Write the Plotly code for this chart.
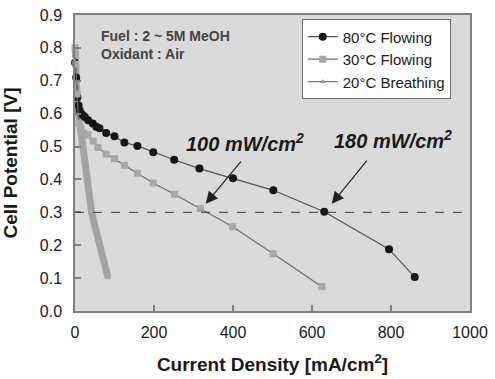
import plotly.graph_objects as go

# ---- data ----
x80 = [0, 3, 6, 9, 12, 16, 20, 25, 33, 45, 54, 62, 79, 100, 125, 158, 198, 251, 315, 400, 502, 631, 795, 860]
y80 = [0.755, 0.71, 0.65, 0.625, 0.61, 0.60, 0.595, 0.59, 0.58, 0.57, 0.56, 0.556, 0.541, 0.531, 0.512, 0.502,
       0.483, 0.46, 0.433, 0.404, 0.367, 0.302, 0.188, 0.103]

x30 = [0, 1, 2, 5, 10, 15, 22, 33, 46, 58, 79, 100, 125, 158, 198, 252, 317, 399, 502, 625]
y30 = [0.80, 0.78, 0.75, 0.66, 0.57, 0.55, 0.54, 0.535, 0.517, 0.497, 0.477, 0.463, 0.443, 0.419, 0.389,
       0.355, 0.312, 0.256, 0.174, 0.074]

x20 = [0, 1, 2, 4, 6, 9, 14, 20, 25, 31, 36, 42, 52, 62, 73, 84]
y20 = [0.80, 0.70, 0.66, 0.64, 0.62, 0.60, 0.55, 0.50, 0.45, 0.40, 0.35, 0.30, 0.25, 0.20, 0.15, 0.10]

names = ["80°C Flowing", "30°C Flowing", "20°C Breathing"]
x_ticks = [0, 200, 400, 600, 800, 1000]
y_ticks = [0.0, 0.1, 0.2, 0.3, 0.4, 0.5, 0.6, 0.7, 0.8, 0.9]
ref_v = 0.3
power_labels = ["100 mW/cm<sup>2</sup>", "180 mW/cm<sup>2</sup>"]
label_pos = [(431, 0.512), (805, 0.52)]
arrow_tip = [(331, 0.326), (650, 0.326)]
arrow_tail = [(423, 0.459), (742, 0.462)]

FONT = "Liberation Sans, Arial"

fig = go.Figure()

# 20C breathing (thick band of dense points)
fig.add_trace(go.Scatter(x=x20, y=y20, mode="lines+markers", showlegend=False,
                         line=dict(color="#a3a3a3", width=7),
                         marker=dict(symbol="triangle-up", size=5, color="#a3a3a3"),
                         cliponaxis=False))
fig.add_trace(go.Scatter(x=x80, y=y80, mode="lines+markers", name=names[0], legendrank=1,
                         line=dict(color="#555555", width=1.2),
                         marker=dict(symbol="circle", size=8, color="#151515"),
                         cliponaxis=False))
fig.add_trace(go.Scatter(x=x30, y=y30, mode="lines+markers", name=names[1], legendrank=2,
                         line=dict(color="#6e6e6e", width=1.2),
                         marker=dict(symbol="square", size=7, color="#a8a8a8"),
                         cliponaxis=False))
# legend proxy for 20C
fig.add_trace(go.Scatter(x=[None], y=[None], mode="lines+markers", name=names[2], legendrank=3,
                         line=dict(color="#777777", width=1.2),
                         marker=dict(symbol="triangle-up", size=5, color="#999999")))

fig.add_shape(type="line", x0=0, x1=1000, y0=ref_v, y1=ref_v, xref="x", yref="y",
              line=dict(color="#3a3a3a", width=1, dash="dash"), layer="above")

for txt, (lx, ly) in zip(power_labels, label_pos):
    fig.add_annotation(x=lx, y=ly, text="<b><i>" + txt + "</i></b>", showarrow=False,
                       font=dict(family=FONT, size=20, color="#1a1a1a"))
for (tx, ty), (ax, ay) in zip(arrow_tip, arrow_tail):
    fig.add_annotation(x=tx, y=ty, ax=ax, ay=ay, axref="x", ayref="y", text="",
                       showarrow=True, arrowhead=2, arrowsize=2, arrowwidth=1.2,
                       arrowcolor="#222222")

fig.add_annotation(x=62, y=0.868, xanchor="left", yanchor="top", align="left",
                   text="<b>Fuel : 2 ~ 5M MeOH<br>Oxidant : Air</b>", showarrow=False,
                   font=dict(family=FONT, size=14, color="#444444"))

axis_common = dict(showline=True, linecolor="#808080", linewidth=1.5, mirror=True,
                   ticks="inside", ticklen=6, tickcolor="#808080", tickwidth=1.5,
                   showgrid=False, zeroline=False,
                   tickfont=dict(family=FONT, size=16, color="#1a1a1a"))

fig.update_layout(
    width=495, height=379,
    margin=dict(l=75, r=19, t=7, b=65),
    paper_bgcolor="white", plot_bgcolor="#dadada",
    showlegend=True,
    legend=dict(x=0.574, y=0.985, xanchor="left", yanchor="top",
                bgcolor="white", bordercolor="#707070", borderwidth=1,
                font=dict(family=FONT, size=15, color="#1a1a1a"),
                itemwidth=30, tracegroupgap=0),
    xaxis=dict(range=[0, 1000], tickvals=x_ticks, ticklabelstandoff=6,
               title=dict(text="<b>Current Density [mA/cm<sup>2</sup>]</b>", standoff=18,
                          font=dict(family=FONT, size=19, color="#1a1a1a")),
               **axis_common),
    yaxis=dict(range=[0, 0.9], tickvals=y_ticks, tickformat=".1f", ticklabelstandoff=8,
               title=dict(text="<b>Cell Potential [V]</b>", standoff=18,
                          font=dict(family=FONT, size=19, color="#1a1a1a")),
               **axis_common),
)

fig.write_html("out.html", config={"displayModeBar": False},
               post_script="document.body.style.margin='0';")
